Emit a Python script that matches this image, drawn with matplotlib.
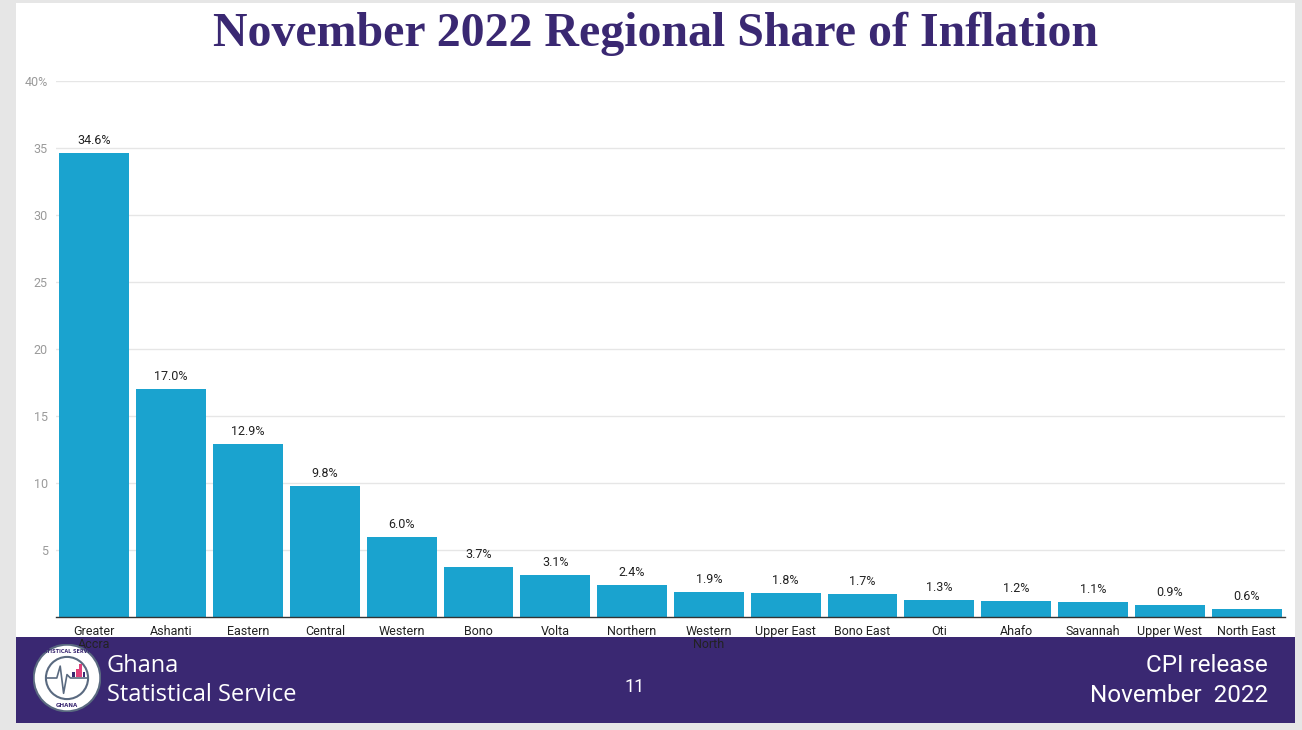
import matplotlib.pyplot as plt
from matplotlib.patches import Rectangle, Circle

# data
regions = ["Greater\nAccra", "Ashanti", "Eastern", "Central", "Western", "Bono", "Volta",
           "Northern", "Western\nNorth", "Upper East", "Bono East", "Oti", "Ahafo",
           "Savannah", "Upper West", "North East"]
share = [34.6, 17.0, 12.9, 9.8, 6.0, 3.7, 3.1, 2.4, 1.9, 1.8, 1.7, 1.3, 1.2, 1.1, 0.9, 0.6]
yticks = [5, 10, 15, 20, 25, 30, 35, 40]
ytick_labels = ["5", "10", "15", "20", "25", "30", "35", "40%"]

bar_color = "#1aa3cf"
purple = "#3a2872"
W, H = 1302, 730

fig = plt.figure(figsize=(W / 100, H / 100), dpi=100)
fig.patch.set_facecolor("#e6e6e6")

# white slide + footer band
fig.patches.append(Rectangle((16 / W, 7 / H), 1279 / W, 720 / H, transform=fig.transFigure,
                             facecolor="white", edgecolor="none", zorder=-3))
fig.patches.append(Rectangle((16 / W, 7 / H), 1279 / W, 86 / H, transform=fig.transFigure,
                             facecolor=purple, edgecolor="none", zorder=-2))

ax = fig.add_axes([56 / W, 113 / H, 1229 / W, 536 / H])
ax.set_facecolor("none")
x = range(len(regions))
bars = ax.bar(x, share, width=0.91, color=bar_color, zorder=2)
for b, v in zip(bars, share):
    ax.text(b.get_x() + b.get_width() / 2, v + 0.45, "{:.1f}%".format(v), ha="center", va="bottom",
            fontsize=9, color="#222222", family="Roboto")

ax.set_xlim(-0.5, len(regions) - 0.5)
ax.set_ylim(0, 40)
ax.set_yticks(yticks)
ax.set_yticklabels(ytick_labels, fontsize=9, color="#9a9a9a", family="Roboto")
ax.set_xticks(list(x))
ax.set_xticklabels(regions, fontsize=9, color="#222222", family="Roboto", linespacing=1.0)
ax.tick_params(axis="x", length=0, pad=6)
ax.tick_params(axis="y", length=0, pad=6)
ax.grid(axis="y", color="#e6e6e6", linewidth=1, zorder=0)
for s in ["top", "right", "left"]:
    ax.spines[s].set_visible(False)
ax.spines["bottom"].set_color("#333333")
ax.spines["bottom"].set_linewidth(1)

fig.text(656 / W, 1 - 34 / H, "November 2022 Regional Share of Inflation", ha="center", va="center",
         fontsize=34.5, fontweight="bold", color=purple, family="Liberation Serif")

# footer text
fig.text(107 / W, 1 - 666 / H, "Ghana", fontsize=17, color="white", family="Open Sans",
         ha="left", va="center")
fig.text(107 / W, 1 - 695 / H, "Statistical Service", fontsize=17, color="white", family="Open Sans",
         ha="left", va="center")
fig.text(635 / W, 1 - 687 / H, "11", fontsize=13, color="white", family="Roboto", ha="center", va="center")
fig.text(1268 / W, 1 - 666 / H, "CPI release", fontsize=17.5, color="white", family="Roboto",
         ha="right", va="center")
fig.text(1268 / W, 1 - 695 / H, "November  2022", fontsize=17.5, color="white", family="Roboto",
         ha="right", va="center")

# simple logo
lax = fig.add_axes([33 / W, 1 - 712 / H, 68 / W, 68 / H])
lax.set_xlim(-1, 1)
lax.set_ylim(-1, 1)
lax.set_aspect("equal")
lax.axis("off")
lax.add_patch(Circle((0, 0), 0.98, facecolor="white", edgecolor="#5a6a80", linewidth=1.5))
lax.add_patch(Circle((0, 0), 0.62, facecolor="white", edgecolor="#5a6a80", linewidth=1.5))
lax.plot([-0.6, -0.3, -0.2, -0.1, 0.0, 0.1, 0.6], [0, 0, 0.35, -0.45, 0.1, 0, 0], color="#5a6a80", lw=1.2)
for bx, bh, bc in [(0.2, 0.15, "#3a2872"), (0.3, 0.25, "#e0407a"), (0.4, 0.4, "#e0407a"), (0.5, 0.15, "#3a2872")]:
    lax.add_patch(Rectangle((bx - 0.04, 0.02), 0.08, bh, facecolor=bc, edgecolor="none"))
lax.text(0, 0.78, "STATISTICAL SERVICE", fontsize=3.5, ha="center", va="center", color=purple,
         fontweight="bold")
lax.text(0, -0.8, "GHANA", fontsize=4, ha="center", va="center", color=purple, fontweight="bold")

fig.savefig("out.png", dpi=100, facecolor=fig.get_facecolor())
